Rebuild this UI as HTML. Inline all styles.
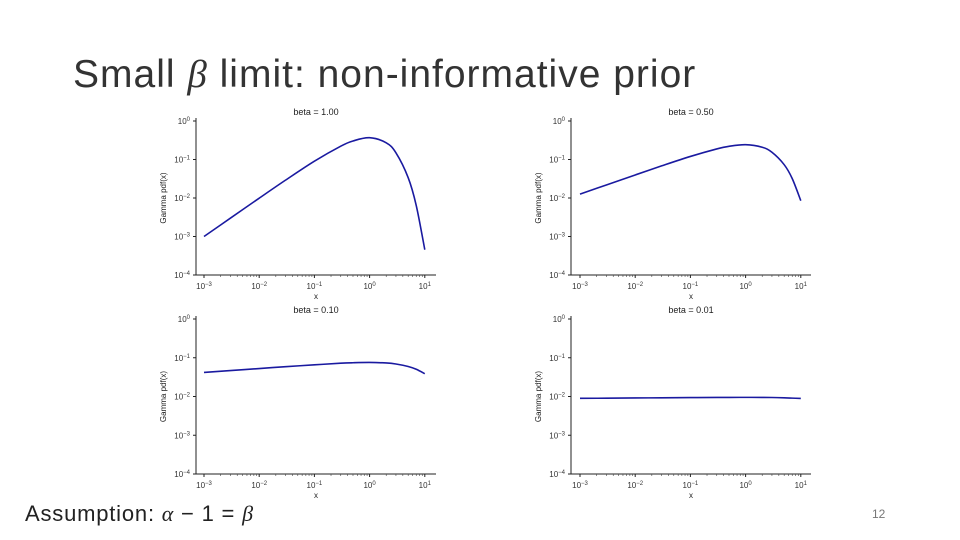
<!DOCTYPE html>
<html><head><meta charset="utf-8"><style>
body{margin:0;background:#fff;}
#wrap{position:relative;width:960px;height:540px;overflow:hidden;font-family:"Liberation Sans",sans-serif;}
.title{position:absolute;left:73px;top:52px;font-size:39px;color:#333;font-family:"Liberation Sans",sans-serif;letter-spacing:1px}
.foot{position:absolute;left:25px;top:501px;font-size:22px;color:#222;letter-spacing:0.8px}
.pg{position:absolute;left:872px;top:507px;font-size:12px;color:#777}
</style></head><body>
<div id="wrap">
<div class="title">Small <i style="font-family:'Liberation Serif',serif">β</i> limit: non-informative prior</div>
<div class="foot">Assumption: <i style="font-family:'Liberation Serif',serif">α</i> − 1 = <i style="font-family:'Liberation Serif',serif">β</i></div>
<div class="pg">12</div>
<svg id="svg" width="960" height="540" style="position:absolute;left:0;top:0"></svg>
</div>
<script>
const xs = [0.001,0.003,0.01,0.03,0.1,0.3,0.5,1,2,3,5,7,10];
const yBeta100 = [0.000999,0.00299,0.0099,0.0291,0.0905,0.222,0.303,0.368,0.271,0.149,0.0337,0.00638,0.000454];
const yBeta050 = [0.0126,0.0218,0.0397,0.0681,0.120,0.188,0.220,0.242,0.2076,0.154,0.0733,0.0319,0.0085];
const yBeta010 = [0.0418,0.0466,0.0527,0.0588,0.0656,0.0722,0.0743,0.0755,0.0733,0.069,0.0595,0.0504,0.0387];
const yBeta001 = [0.00896,0.00905,0.00917,0.00927,0.00938,0.00944,0.00947,0.0095,0.00947,0.00942,0.00925,0.00908,0.00889];
const titles = ["beta = 1.00","beta = 0.50","beta = 0.10","beta = 0.01"];
const xTickLabels = ["-3","-2","-1","0","1"];
const yTickLabels = ["0","-1","-2","-3","-4"];
const NS="http://www.w3.org/2000/svg";
const svg=document.getElementById('svg');
function mk(t,a,p){const e=document.createElementNS(NS,t);for(const k in a)e.setAttribute(k,a[k]);(p||svg).appendChild(e);return e;}
const panels=[{L:196,R:436,T:121,B:275,x0:204,y:yBeta100},{L:571,R:811,T:121,B:275,x0:580,y:yBeta050},
{L:196,R:436,T:319,B:474,x0:204,y:yBeta010},{L:571,R:811,T:319,B:474,x0:580,y:yBeta001}];
panels.forEach((p,i)=>{
  const g=mk('g',{});
  
  
  const dec=55.2;
  const X=v=>p.x0+(Math.log10(v)+3)*dec;
  const Y=v=>p.T+(-Math.log10(v))*(p.B-p.T)/4;
  const ax=mk('path',{d:`M${p.L},${p.T-3}V${p.B}H${p.R}`,stroke:'#222','stroke-width':1,fill:'none'},g);
  
  xTickLabels.forEach((l,k)=>{const x=p.x0+k*dec;
    mk('line',{x1:x,x2:x,y1:p.B,y2:p.B+3,stroke:'#222'},g);
    const t=mk('text',{x:x,y:p.B+14,'font-size':8,'text-anchor':'middle',fill:'#333'},g);
    
    t.innerHTML='10<tspan dy="-3" font-size="6">'+(l.startsWith('-')?'−'+l.slice(1):l)+'</tspan>';
    if(k<4)for(let m=2;m<10;m++){const xm=x+Math.log10(m)*dec;mk('line',{x1:xm,x2:xm,y1:p.B,y2:p.B+2,stroke:'#444','stroke-width':0.6},g);}
  });
  yTickLabels.forEach((l,k)=>{const y=p.T+k*(p.B-p.T)/4;
    mk('line',{x1:p.L-3,x2:p.L,y1:y,y2:y,stroke:'#222'},g);
    const t=mk('text',{x:p.L-6,y:y+3,'font-size':8,'text-anchor':'end',fill:'#333'},g);
    
    t.innerHTML='10<tspan dy="-3" font-size="6">'+(l.startsWith('-')?'−'+l.slice(1):l)+'</tspan>';
  });
  const tt=mk('text',{x:(p.L+p.R)/2,y:p.T-6,'font-size':9,'text-anchor':'middle',fill:'#222'},g);
  tt.textContent=titles[i];
  const xl=mk('text',{x:(p.L+p.R)/2,y:p.B+24,'font-size':8,'text-anchor':'middle',fill:'#222'},g);
  xl.textContent='x';
  const cy=(p.T+p.B)/2;
  const yl=mk('text',{x:p.L-30,y:cy,'font-size':8,'text-anchor':'middle',fill:'#222',transform:`rotate(-90 ${p.L-30} ${cy})`},g);
  yl.textContent='Gamma pdf(x)';
  const pts=xs.map((v,k)=>[X(v),Y(p.y[k])]);
  let d=`M${pts[0][0]},${pts[0][1]}`;
  for(let k=0;k<pts.length-1;k++){const p0=pts[Math.max(k-1,0)],p1=pts[k],p2=pts[k+1],p3=pts[Math.min(k+2,pts.length-1)];
    d+=`C${p1[0]+(p2[0]-p0[0])/6},${p1[1]+(p2[1]-p0[1])/6} ${p2[0]-(p3[0]-p1[0])/6},${p2[1]-(p3[1]-p1[1])/6} ${p2[0]},${p2[1]}`;}
  const ln=mk('path',{d:d,stroke:'#1a1aa0','stroke-width':1.6,fill:'none'},g);
  
});
</script>
</body></html>
